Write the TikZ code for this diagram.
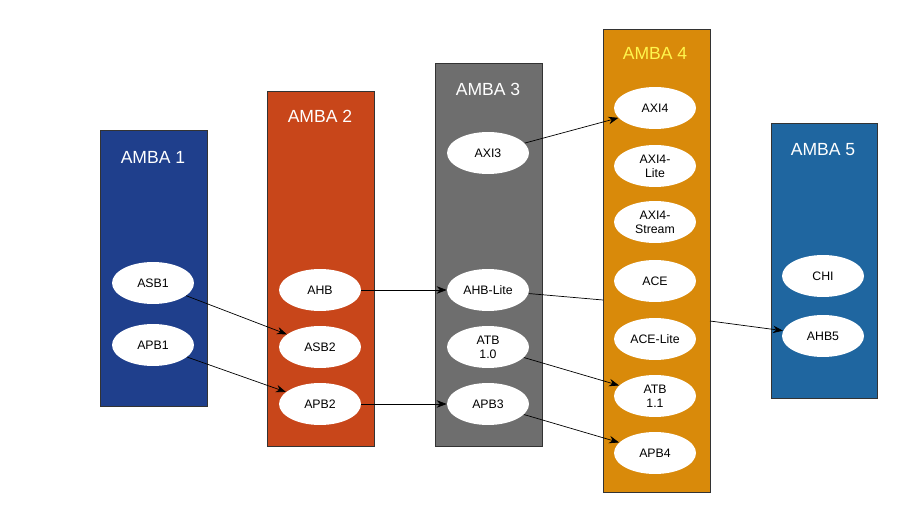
\documentclass[tikz,border=0pt]{standalone}
\usepackage{fontspec}
\setmainfont{Liberation Sans}
\usetikzlibrary{arrows.meta,shapes.geometric}
\definecolor{ambaone}{HTML}{1F3F8C}
\definecolor{ambatwo}{HTML}{C8461A}
\definecolor{ambathree}{HTML}{6E6E6E}
\definecolor{ambafour}{HTML}{D98A0A}
\definecolor{ambafive}{HTML}{1F66A0}
\tikzset{
  column/.style={draw=black!80, thin},
  title/.style={text=white, font=\fontsize{10}{12}\selectfont},
  proto/.style={ellipse, fill=white, minimum width=1.64cm, minimum height=0.84cm, inner sep=0pt, align=center, font=\fontsize{7}{8}\selectfont},
  link/.style={-{Stealth[length=2mm,width=1.5mm]}, thin}
}
\begin{document}
\begin{tikzpicture}[x=0.02cm,y=-0.02cm]
    \useasboundingbox (0,0) rectangle (923,506);

    % columns
    \filldraw[column, fill=ambaone] (100,130) rectangle (207,406);
    \filldraw[column, fill=ambatwo] (267,91) rectangle (374,446);
    \filldraw[column, fill=ambathree] (435,63) rectangle (542,446);
    \filldraw[column, fill=ambafour] (603,29) rectangle (710,492);
    \filldraw[column, fill=ambafive] (771,123) rectangle (877,398);

    \node[title] (t1) at (153,157) {AMBA 1};
    \node[title] (t2) at (320,116) {AMBA 2};
    \node[title] (t3) at (488,89) {AMBA 3};
    \node[title, text=yellow!70] (t4) at (655,53) {AMBA 4};
    \node[title] (t5) at (823,150) {AMBA 5};

    % protocols
    \node[proto] (asb1) at (153,283) {ASB1};
    \node[proto] (apb1) at (153,345) {APB1};

    \node[proto] (ahb) at (320,290) {AHB};
    \node[proto] (asb2) at (320,347) {ASB2};
    \node[proto] (apb2) at (320,404) {APB2};

    \node[proto] (axi3) at (488,153) {AXI3};
    \node[proto] (ahblite) at (488,290) {AHB-Lite};
    \node[proto] (atb10) at (488,347) {ATB\\1.0};
    \node[proto] (apb3) at (488,404) {APB3};

    \node[proto] (axi4) at (655,108) {AXI4};
    \node[proto] (axi4lite) at (655,166) {AXI4-\\Lite};
    \node[proto] (axi4stream) at (655,222) {AXI4-\\Stream};
    \node[proto] (ace) at (655,281) {ACE};
    \node[proto] (acelite) at (655,339) {ACE-Lite};
    \node[proto] (atb11) at (655,396) {ATB\\1.1};
    \node[proto] (apb4) at (655,453) {APB4};

    \node[proto] (chi) at (823,276) {CHI};
    \node[proto] (ahb5) at (823,336) {AHB5};

    \coordinate (amba4in) at (603,300);
    \coordinate (amba4out) at (710,321);

    % links
    \draw[link] (asb1) -- (asb2);
    \draw[link] (apb1) -- (apb2);
    \draw[link] (ahb) -- (ahblite);
    \draw[link] (apb2) -- (apb3);
    \draw[link] (axi3) -- (axi4);
    \draw[link] (atb10) -- (atb11);
    \draw[link] (apb3) -- (apb4);
    \draw[thin] (ahblite) -- (amba4in);
    \draw[link] (amba4out) -- (ahb5);
\end{tikzpicture}
\end{document}
